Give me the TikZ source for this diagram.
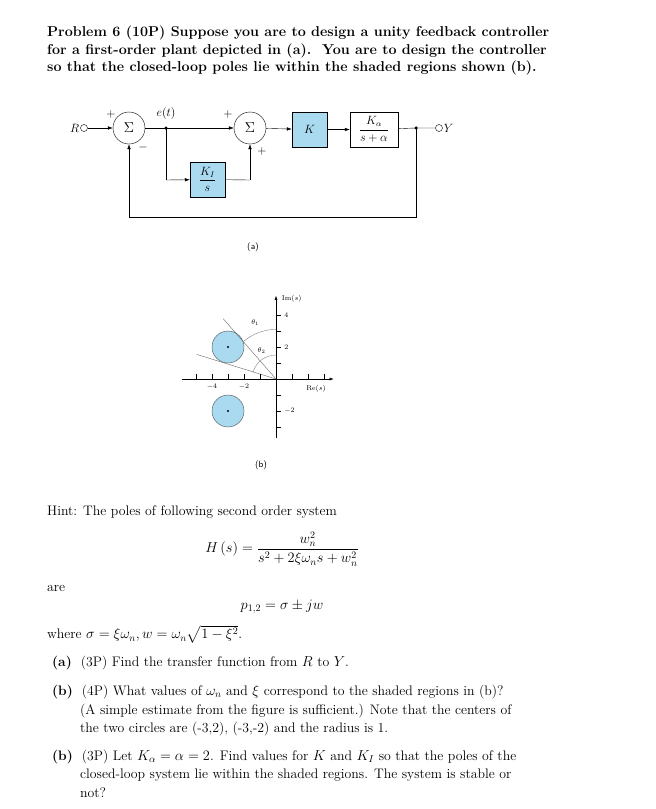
\documentclass[tikz,border=0pt]{standalone}
\usepackage{amsmath}
\usetikzlibrary{arrows.meta}
\definecolor{lb}{RGB}{170,218,240}
\begin{document}
\begin{tikzpicture}[x=1pt,y=-1pt,font=\fontsize{13.8}{16}\selectfont,
  txt/.style={anchor=west,inner sep=0pt},
  sumn/.style={draw,circle,minimum size=32pt,inner sep=0pt,font=\Large},
  blk/.style={draw,minimum width=35pt,minimum height=35pt,inner sep=1pt,font=\large},
  term/.style={draw,circle,minimum size=7pt,inner sep=0pt},
  dot/.style={circle,fill,minimum size=3.5pt,inner sep=0pt},
  sig/.style={-{Latex[length=5pt,width=3.5pt]},thin},
  lab/.style={font=\large,inner sep=1pt}]
\useasboundingbox (0,0) rectangle (656,809);
% header
\node[txt,font=\fontsize{14.3}{16}\bfseries] (h1) at (47,33) {Problem 6 (10P) Suppose you are to design a unity feedback controller};
\node[txt,font=\fontsize{14.3}{16}\bfseries] (h2) at (47,51) {for a first-order plant depicted in (a).\ \ You are to design the controller};
\node[txt,font=\fontsize{14.3}{16}\bfseries] (h3) at (47,68) {so that the closed-loop poles lie within the shaded regions shown (b).};
% block diagram
\node[term] (R) at (84,128) {};
\node[lab,anchor=east] (Rl) at (R.west) {$R$};
\node[sumn] (s1) at (129,128) {$\Sigma$};
\coordinate (e) at (166,128);
\node[dot] (ed) at (e) {};
\node[lab,anchor=south] (el) at (166,121) {$e(t)$};
\node[sumn] (s2) at (250,128) {$\Sigma$};
\node[blk,fill=lb] (K) at (309.5,129.5) {$K$};
\node[blk,minimum width=48pt] (Ka) at (374,129.5) {$\dfrac{K_\alpha}{s+\alpha}$};
\coordinate (j) at (416,128);
\node[dot] (jd) at (j) {};
\node[term] (Y) at (439,128) {};
\node[lab,anchor=west] (Yl) at (Y.east) {$Y$};
\node[blk,fill=lb] (KI) at (207.5,179.5) {$\dfrac{K_I}{s}$};
\coordinate (fb) at (416,217);
\coordinate (fb1) at (129,217);
\coordinate (ki1) at (166,180);
\coordinate (ki2) at (250,180);
\draw[sig] (R) -- (s1);
\draw (s1) -- (e);
\draw[sig] (e) -- (s2);
\draw[sig] (s2) -- (K);
\draw[sig] (K) -- (Ka);
\draw (Ka) -- (j) -- (Y);
\draw (j) -- (fb) -- (fb1);
\draw[sig] (fb1) -- (s1);
\draw (e) -- (ki1);
\draw[sig] (ki1) -- (KI);
\draw (KI) -- (ki2);
\draw[sig] (ki2) -- (s2);
\node[lab] (p1) at (111,114) {$+$};
\node[lab] (m1) at (143,147) {$-$};
\node[lab] (p2) at (228,114) {$+$};
\node[lab] (p3) at (262,151) {$+$};
\node[font=\sffamily\small] (la) at (253,247) {(a)};
% s-plane
\begin{scope}[shift={(276,379)},x=16pt,y=16pt]
\coordinate (O) at (0,0);
\filldraw[fill=lb,draw=black!70] (-3,2) circle (1);
\filldraw[fill=lb,draw=black!70] (-3,-2) circle (1);
\fill (-3,2) circle (1.2pt);
\fill (-3,-2) circle (1.2pt);
\draw[black!60] (O) -- (-3.3,3.77);
\draw[black!60] (O) -- (-4.96,1.54);
\draw[black!50] (0,3.1) arc (90:131:3.1);
\draw[black!50] (0,1.5) arc (90:163:1.5);
\draw[-{Latex[length=4pt,width=3pt]}] (-5.9,0) -- (3.6,0);
\draw[-{Latex[length=4pt,width=3pt]}] (0,-3.7) -- (0,5.2);
\foreach \i in {-5,-4,-3,-2,-1,1,2,3} \draw (\i,0) -- (\i,0.3);
\foreach \i in {-3,-2,-1,1,2,3,4} \draw (0,\i) -- (0.3,\i);
\node[font=\scriptsize,anchor=north] (t4) at (-4,-0.1) {$-4$};
\node[font=\scriptsize,anchor=north] (t2) at (-2,-0.1) {$-2$};
\node[font=\scriptsize,anchor=west] (y4) at (0.3,4) {4};
\node[font=\scriptsize,anchor=west] (y2) at (0.3,2) {2};
\node[font=\scriptsize,anchor=west] (ym2) at (0.3,-2) {$-2$};
\node[font=\scriptsize,anchor=west] (im) at (0.15,5.0) {Im$(s)$};
\node[font=\scriptsize,anchor=north] (re) at (2.5,-0.2) {Re$(s)$};
\node[font=\scriptsize] (th1) at (-1.3,3.5) {$\theta_1$};
\node[font=\scriptsize] (th2) at (-0.9,1.8) {$\theta_2$};
\end{scope}
\node[font=\sffamily\small] (lb2) at (261,465) {(b)};
% hint
\node[txt] (hint) at (47,512) {Hint: The poles of following second order system};
\node (H) at (282,549) {$H\left(s\right)=\dfrac{w_n^2}{s^2+2\xi\omega_n s+w_n^2}$};
\node[txt] (are) at (47,588) {are};
\node (p12) at (282,607) {$p_{1,2}=\sigma\pm jw$};
\node[txt] (wh) at (47,634) {where $\sigma=\xi\omega_n,w=\omega_n\sqrt{1-\xi^2}$.};
\node[txt] (ia) at (52,663) {\textbf{(a)}\ \ (3P) Find the transfer function from $R$ to $Y$.};
\node[txt] (ib) at (52,692) {\textbf{(b)}\ \ (4P) What values of $\omega_n$ and $\xi$ correspond to the shaded regions in (b)?};
\node[txt] (ib2) at (80,711) {(A simple estimate from the figure is sufficient.) Note that the centers of};
\node[txt] (ib3) at (80,729) {the two circles are (-3,2), (-3,-2) and the radius is 1.};
\node[txt] (ic) at (52,757) {\textbf{(b)}\ \ (3P) Let $K_\alpha=\alpha=2$. Find values for $K$ and $K_I$ so that the poles of the};
\node[txt] (ic2) at (80,775) {closed-loop system lie within the shaded regions. The system is stable or};
\node[txt] (ic3) at (80,793) {not?};
\end{tikzpicture}
\end{document}
